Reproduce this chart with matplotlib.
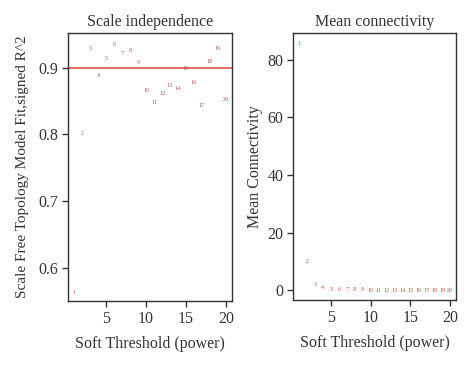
import matplotlib.pyplot as plt
import numpy as np

plt.rcParams['font.family'] = ['Liberation Serif', 'DejaVu Serif']

# soft-thresholding powers
powers = list(range(1, 21))
# scale free topology fit (signed R^2)
fit_r2 = [0.562, 0.801, 0.928, 0.888, 0.914, 0.935, 0.921, 0.926, 0.907, 0.865,
          0.848, 0.861, 0.873, 0.869, 0.899, 0.878, 0.843, 0.909, 0.928, 0.852]
# mean connectivity
mean_k = [85.7, 9.8, 2.1, 0.8, 0.4, 0.25, 0.17, 0.12, 0.09, 0.07,
          0.06, 0.05, 0.04, 0.035, 0.03, 0.025, 0.02, 0.018, 0.016, 0.014]
cutoff = 0.9

txt_col = '#c25048'
line_col = '#d9534a'

fig = plt.figure(figsize=(4.74, 3.66), dpi=100)
ax1 = fig.add_axes([68 / 474, 1 - 301 / 366, (232 - 68) / 474, (301 - 33) / 366])
ax2 = fig.add_axes([293 / 474, 1 - 300 / 366, (456 - 293) / 474, (300 - 33) / 366])

# left panel
for p, r in zip(powers, fit_r2):
    ax1.text(p, r, str(p), color=txt_col, fontsize=4.3, ha='center', va='center')
ax1.axhline(cutoff, color=line_col, lw=1.2)
ax1.set_xlim(0.24, 20.76)
ax1.set_ylim(0.55, 0.952)
ax1.set_xticks([5, 10, 15, 20])
ax1.set_yticks([0.6, 0.7, 0.8, 0.9])
ax1.set_title('Scale independence', fontsize=11.5, pad=5, color='#333333')
ax1.set_xlabel('Soft Threshold (power)', fontsize=11.5, color='#333333', labelpad=7)
ax1.set_ylabel('Scale Free Topology Model Fit,signed R^2', fontsize=11, color='#333333',
               labelpad=7)

# right panel
for p, k in zip(powers, mean_k):
    ax2.text(p, k, str(p), color=txt_col, fontsize=4.3, ha='center', va='center')
ax2.set_xlim(0.24, 20.76)
ax2.set_ylim(-3.4, 89.3)
ax2.set_xticks([5, 10, 15, 20])
ax2.set_yticks([0, 20, 40, 60, 80])
ax2.set_title('Mean connectivity', fontsize=11.5, pad=5, color='#333333')
ax2.set_xlabel('Soft Threshold (power)', fontsize=11.5, color='#333333', labelpad=7)
ax2.set_ylabel('Mean Connectivity', fontsize=11.5, color='#333333', labelpad=3)

for ax in (ax1, ax2):
    for s in ax.spines.values():
        s.set_color('#333333')
        s.set_linewidth(1.0)
    ax.tick_params(labelsize=11.5, colors='#333333', length=4, width=1.0, pad=3)

fig.savefig('out.png', dpi=100)
